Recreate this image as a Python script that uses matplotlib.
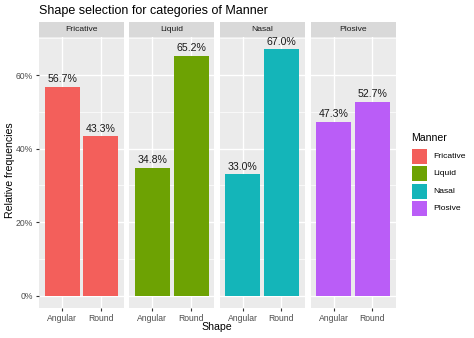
import matplotlib.pyplot as plt
from matplotlib.patches import Rectangle
from matplotlib.ticker import PercentFormatter

plt.rcParams['font.family'] = ['Liberation Sans', 'DejaVu Sans']

manners = ["Fricative", "Liquid", "Nasal", "Plosive"]
shapes = ["Angular", "Round"]
angular = [56.7, 34.8, 33.0, 47.3]
round_ = [43.3, 65.2, 67.0, 52.7]
colors = ["#F35F5B", "#6DA203", "#14B5B9", "#BA5DF7"]

W, H = 474, 338
fig = plt.figure(figsize=(W / 100, H / 100), dpi=100)

def box(x0, y0, x1, y1):
    # pixel box (top-left origin) -> figure fraction rect
    return [x0 / W, 1 - y1 / H, (x1 - x0) / W, (y1 - y0) / H]

panel_w = 85
lefts = [39, 129.3, 219.6, 310.5]
top, bottom, strip_top = 37, 308, 22

for i, m in enumerate(manners):
    x0 = lefts[i]
    ax = fig.add_axes(box(x0, top, x0 + panel_w, bottom))
    ax.set_facecolor("#EBEBEB")
    vals = [angular[i] / 100, round_[i] / 100]
    ax.bar([1, 2], vals, width=0.9, color=colors[i], zorder=3)
    for xpos, v in zip([1, 2], vals):
        ax.annotate(f"{v * 100:.1f}%", (xpos, v), xytext=(0, 2),
                    textcoords="offset points", ha="center", va="bottom",
                    fontsize=7.6, color="#1A1A1A", zorder=4)
    ax.set_xlim(0.4, 2.6)
    ax.set_ylim(-0.0335, 0.7035)
    ax.set_xticks([1, 2])
    ax.set_xticklabels(shapes)
    ax.set_yticks([0, 0.2, 0.4, 0.6])
    ax.set_yticks([0.1, 0.3, 0.5, 0.7], minor=True)
    ax.yaxis.set_major_formatter(PercentFormatter(1.0, decimals=0))
    ax.grid(which="major", color="white", linewidth=1.0, zorder=1)
    ax.grid(which="minor", axis="y", color="white", linewidth=0.5, zorder=1)
    ax.tick_params(axis="both", which="major", length=2.5, width=0.8,
                   color="#333333", labelsize=6.2, labelcolor="#4D4D4D", pad=2)
    ax.tick_params(axis="y", which="minor", length=0)
    if i > 0:
        ax.tick_params(axis="y", which="major", length=0, labelleft=False)
    for s in ax.spines.values():
        s.set_visible(False)

    # facet strip
    sax = fig.add_axes(box(x0, strip_top, x0 + panel_w, top))
    sax.set_facecolor("#D9D9D9")
    sax.set_xticks([])
    sax.set_yticks([])
    for s in sax.spines.values():
        s.set_visible(False)
    sax.text(0.5, 0.5, m, ha="center", va="center", fontsize=6.1,
             color="#1A1A1A", transform=sax.transAxes)

fig.text(39 / W, 1 - 11 / H, "Shape selection for categories of Manner",
         fontsize=9, ha="left", va="center", color="black")
fig.text(217 / W, 1 - 327 / H, "Shape", fontsize=7.6, ha="center", va="center")
fig.text(10 / W, 1 - 170 / H, "Relative frequencies", fontsize=7.6,
         ha="center", va="center", rotation=90)

# legend
fig.text(411 / W, 1 - 138 / H, "Manner", fontsize=7.6, ha="left", va="center")
for j, (m, c) in enumerate(zip(manners, colors)):
    ky = 149 + j * 17.3
    fig.patches.append(Rectangle((412 / W, 1 - (ky + 15) / H), 15 / W, 15 / H,
                                 transform=fig.transFigure, facecolor=c,
                                 edgecolor="none"))
    fig.text(433 / W, 1 - (ky + 7.5) / H, m, fontsize=6.1, ha="left", va="center")

fig.savefig("out.png", dpi=100)
